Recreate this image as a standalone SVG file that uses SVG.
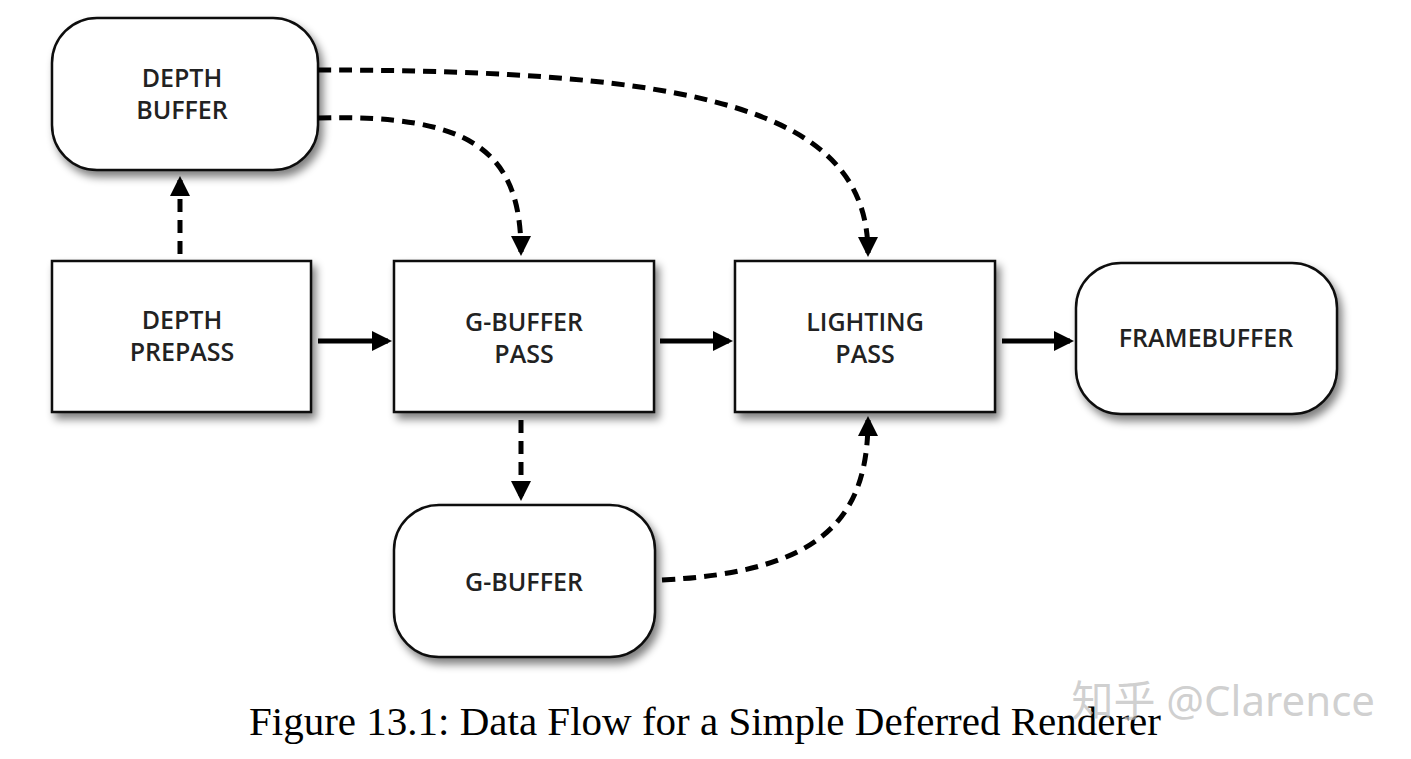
<svg xmlns="http://www.w3.org/2000/svg" width="1411" height="759" viewBox="0 0 1411 759">
<defs>
<filter id="sh" x="-20%" y="-20%" width="150%" height="150%"><feGaussianBlur in="SourceAlpha" stdDeviation="4"/><feOffset dx="4" dy="6"/><feComponentTransfer><feFuncA type="linear" slope="0.5"/></feComponentTransfer><feMerge><feMergeNode/><feMergeNode in="SourceGraphic"/></feMerge></filter>
<marker id="ah" viewBox="0 0 10 10" refX="8" refY="5" markerWidth="4" markerHeight="4" orient="auto"><path d="M0,0 L10,5 L0,10 z" fill="#000"/></marker>
</defs>
<style>
.n{fill:#fff;stroke:#111;stroke-width:2.5;filter:url(#sh)}
.t{font-family:"Open Sans",sans-serif;font-weight:600;font-size:25px;fill:#222;text-anchor:middle}
.s{fill:none;stroke:#000;stroke-width:5;marker-end:url(#ah)}
.d{stroke-dasharray:13 8}
</style>
<rect width="1411" height="759" fill="#fff"/>
<g id="depth-buffer"><rect class="n" x="52" y="18" width="266" height="152" rx="45"/><text class="t" x="182" y="87">DEPTH</text><text class="t" x="182" y="119">BUFFER</text></g>
<g id="depth-prepass"><rect class="n" x="52" y="261" width="259" height="151"/><text class="t" x="182" y="329">DEPTH</text><text class="t" x="182" y="361">PREPASS</text></g>
<g id="gbuffer-pass"><rect class="n" x="394" y="261" width="260" height="151"/><text class="t" x="524" y="331">G-BUFFER</text><text class="t" x="524" y="363">PASS</text></g>
<g id="lighting-pass"><rect class="n" x="735" y="261" width="260" height="151"/><text class="t" x="865" y="331">LIGHTING</text><text class="t" x="865" y="363">PASS</text></g>
<g id="framebuffer"><rect class="n" x="1076" y="263" width="261" height="151" rx="45"/><text class="t" x="1206" y="347">FRAMEBUFFER</text></g>
<g id="gbuffer"><rect class="n" x="394" y="505" width="261" height="152" rx="45"/><text class="t" x="524" y="591">G-BUFFER</text></g>
<g id="connectors">
<path class="s d" d="M180,254 V180"/>
<path class="s" d="M318,341 H388"/>
<path class="s" d="M660,341 H729"/>
<path class="s" d="M1002,341 H1070"/>
<path class="s d" d="M318,118 C470,114 521,150 521,252"/>
<path class="s d" d="M318,70 C700,70 868,110 868,253"/>
<path class="s d" d="M521,420 V497"/>
<path class="s d" d="M662,580 C820,572 868,520 868,420"/>
</g>
<text x="705" y="735" font-family="Liberation Serif,serif" font-size="41" text-anchor="middle" fill="#000">Figure 13.1: Data Flow for a Simple Deferred Renderer</text>
<text x="1375" y="716" font-family="Noto Sans,Noto Sans CJK SC,sans-serif" font-size="42" text-anchor="end" fill="#bbb" fill-opacity="0.7">知乎 @Clarence</text>
</svg>
